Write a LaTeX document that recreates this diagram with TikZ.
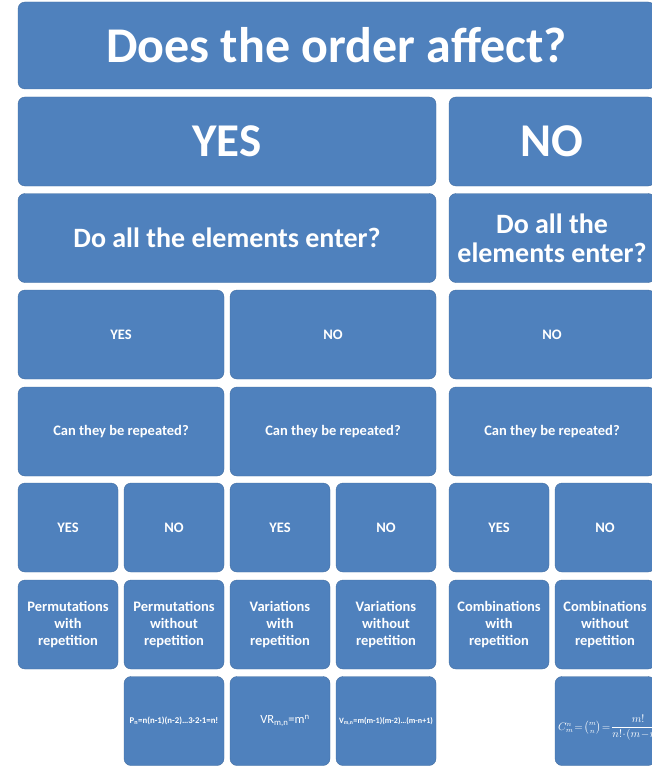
\documentclass[tikz,border=0pt]{standalone}
\usepackage{amsmath}
\usepackage{fontspec}
\setmainfont{Carlito}
\definecolor{boxblue}{HTML}{4F81BD}
\begin{document}
\begin{tikzpicture}[x=1pt,y=-1pt,
  box/.style={rounded corners=7pt, fill=boxblue, draw=boxblue!85!black, line width=0.4pt,
    text=white, align=center, inner sep=0pt, minimum height=89pt},
  wsmall/.style={minimum width=100pt},
  wmid/.style={minimum width=206pt},
  wbig/.style={minimum width=418pt},
  fhuge/.style={font=\bfseries\fontsize{50}{54}\selectfont},
  flarge/.style={font=\bfseries\fontsize{47}{51}\selectfont},
  fmed/.style={font=\bfseries\fontsize{28}{29}\selectfont},
  fsmall/.style={font=\bfseries\fontsize{14.5}{16.7}\selectfont},
  ftinyP/.style={font=\bfseries\fontsize{8.8}{10}\selectfont},
  ftinyV/.style={font=\bfseries\fontsize{8.1}{9}\selectfont}]
\useasboundingbox (0,0) rectangle (652,773);
% row 1
\node[box, fhuge, minimum width=637pt, minimum height=87pt] (title) at (336.5,45.5) {Does the order affect?};
% row 2
\node[box, flarge, wbig] (yes) at (227,141.5) {YES};
\node[box, flarge, wmid] (no) at (552,141.5) {NO};
% row 3
\node[box, fmed, wbig] (enterA) at (227,238) {Do all the elements enter?};
\node[box, fmed, wmid] (enterB) at (552,238) {Do all the\\elements enter?};
% row 4
\node[box, fsmall, wmid] (yA) at (121,334.5) {YES};
\node[box, fsmall, wmid] (nA) at (333,334.5) {NO};
\node[box, fsmall, wmid] (nB) at (552,334.5) {NO};
% row 5
\node[box, fsmall, wmid] (repA) at (121,431.5) {Can they be repeated?};
\node[box, fsmall, wmid] (repB) at (333,431.5) {Can they be repeated?};
\node[box, fsmall, wmid] (repC) at (552,431.5) {Can they be repeated?};
% row 6
\node[box, fsmall, wsmall] (y1) at (68,527.5) {YES};
\node[box, fsmall, wsmall] (n1) at (174,527.5) {NO};
\node[box, fsmall, wsmall] (y2) at (280,527.5) {YES};
\node[box, fsmall, wsmall] (n2) at (386,527.5) {NO};
\node[box, fsmall, wsmall] (y3) at (499,527.5) {YES};
\node[box, fsmall, wsmall] (n3) at (605,527.5) {NO};
% row 7
\node[box, fsmall, wsmall] (pw) at (68,624.5) {Permutations\\with\\repetition};
\node[box, fsmall, wsmall] (pwo) at (174,624.5) {Permutations\\without\\repetition};
\node[box, fsmall, wsmall] (vw) at (280,624.5) {Variations\\with\\repetition};
\node[box, fsmall, wsmall] (vwo) at (386,624.5) {Variations\\without\\repetition};
\node[box, fsmall, wsmall] (cw) at (499,624.5) {Combinations\\with\\repetition};
\node[box, fsmall, wsmall] (cwo) at (605,624.5) {Combinations\\without\\repetition};
% row 8
\node[box, ftinyP, wsmall] (fp) at (174,721) {P\textsubscript{n}=n(n-1)(n-2)…3·2·1=n!};
\node[box, font=\fontsize{12.5}{14}\selectfont, wsmall] (fvr) at (280,721) {\hspace*{10pt}VR\textsubscript{m,n}=m\textsuperscript{n}};
\node[box, ftinyV, wsmall] (fv) at (386,721) {V\textsubscript{m,n}=m(m-1)(m-2)…(m-n+1)};
\node[box, wsmall, font=\fontsize{10.5}{11}\selectfont] (fc) at (605,721)
  {\raisebox{-9pt}[0pt][0pt]{\makebox[100pt][l]{\hspace{3pt}$\thickmuskip=1.5mu\medmuskip=1mu C_m^n=\binom{m}{n}=\dfrac{m!}{n!\cdot(m-n)!}$}}};
\end{tikzpicture}
\end{document}
